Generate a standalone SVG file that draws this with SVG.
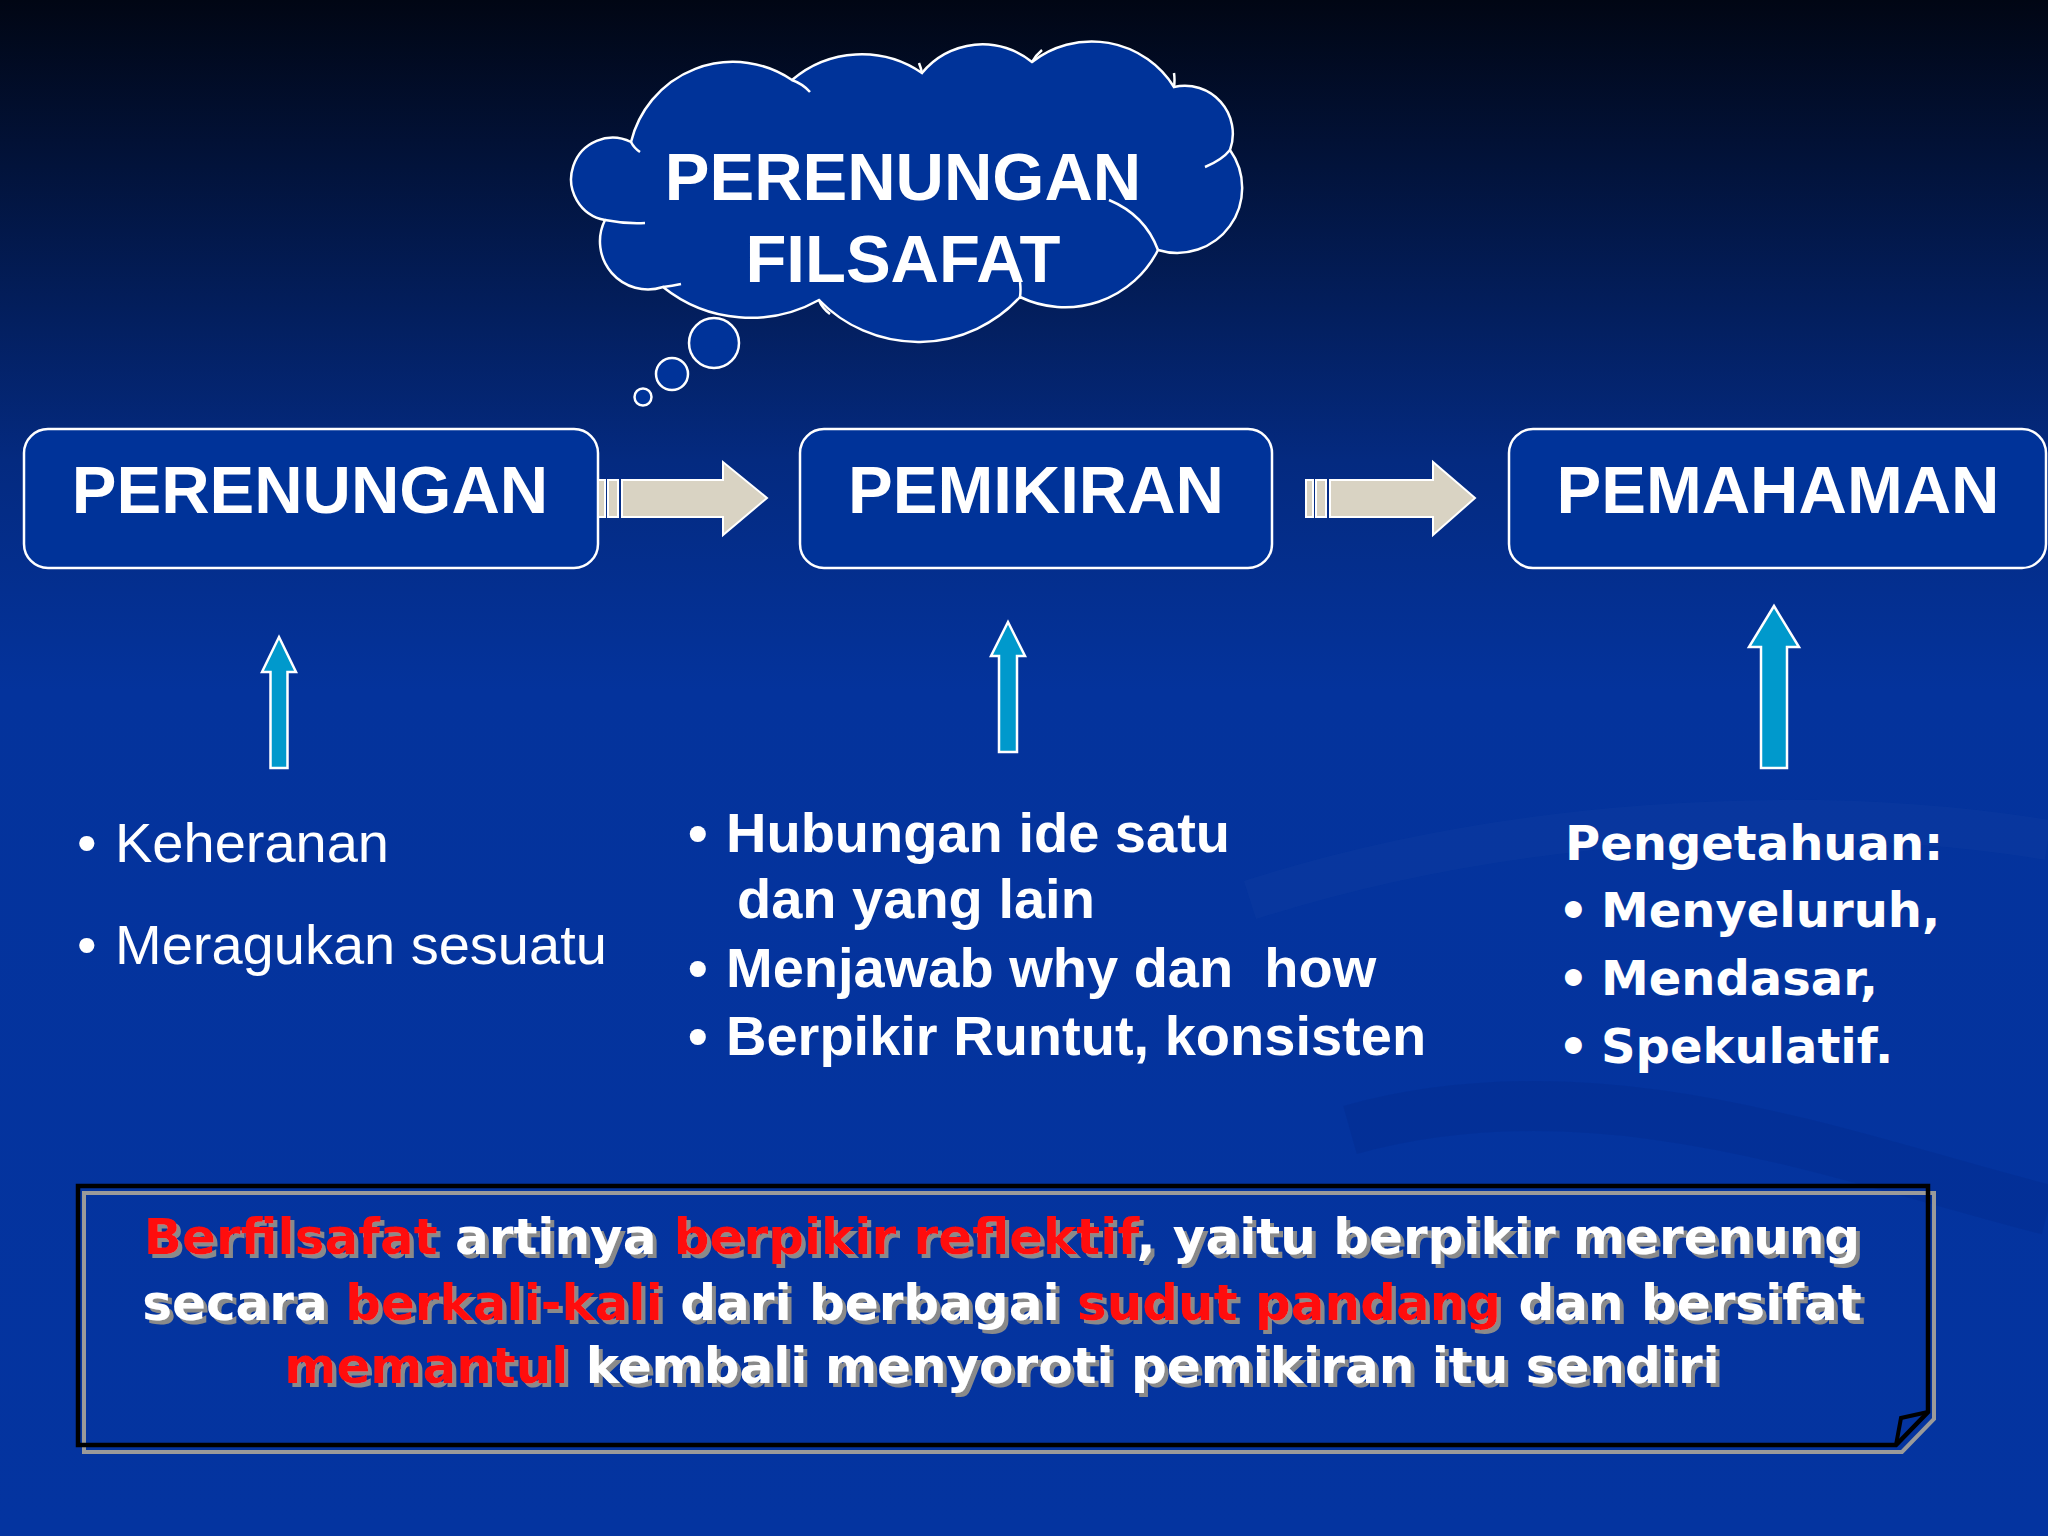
<svg xmlns="http://www.w3.org/2000/svg" width="2048" height="1536" viewBox="0 0 2048 1536">
<defs>
<linearGradient id="bg" x1="0" y1="0" x2="0" y2="1">
<stop offset="0" stop-color="#010614"/>
<stop offset="0.1" stop-color="#021238"/>
<stop offset="0.3" stop-color="#042a80"/>
<stop offset="0.45" stop-color="#04339c"/>
<stop offset="1" stop-color="#0434a0"/>
</linearGradient>
<filter id="tshadow" x="-5%" y="-30%" width="110%" height="160%">
<feOffset in="SourceAlpha" dx="4" dy="4" result="off"/>
<feFlood flood-color="#8a8a8a"/>
<feComposite in2="off" operator="in" result="sh"/>
<feMerge><feMergeNode in="sh"/><feMergeNode in="SourceGraphic"/></feMerge>
</filter>
<style>
.box{fill:#003399;stroke:#ffffff;stroke-width:2.5}
.head{font-family:"Liberation Sans",Arial,sans-serif;font-weight:bold;font-size:67px;fill:#ffffff;text-anchor:middle}
.beige{fill:#d9d3c3;stroke:#ffffff;stroke-width:2}
.up{fill:#0099cc;stroke:#ffffff;stroke-width:2.5}
.lreg{font-family:"Liberation Sans",Arial,sans-serif;font-size:56px;fill:#ffffff}
.lbold{font-family:"Liberation Sans",Arial,sans-serif;font-weight:bold;font-size:56px;fill:#ffffff}
.rbold{font-family:"DejaVu Sans",Verdana,sans-serif;font-weight:bold;font-size:48px;fill:#ffffff}
.btxt{font-family:"DejaVu Sans",Verdana,sans-serif;font-weight:bold;font-size:50px;text-anchor:middle}
.w{fill:#ffffff}
.r{fill:#ff1010}
.crease{fill:none;stroke:#ffffff;stroke-width:2.5}
</style>
</defs>
<rect x="0" y="0" width="2048" height="1536" fill="url(#bg)"/>
<path d="M1250,900 C1500,820 1800,800 2048,840" fill="none" stroke="#2a4fb0" stroke-opacity="0.12" stroke-width="40"/>
<path d="M1350,1130 C1600,1060 1850,1160 2048,1210" fill="none" stroke="#001a70" stroke-opacity="0.14" stroke-width="50"/>

<g id="cloud">
<path d="M631,142 A105,105 0 0 1 792,80 A107,107 0 0 1 922,73 A78,78 0 0 1 1032,62 A97,97 0 0 1 1174,87 A48,48 0 0 1 1230,150 A65,65 0 0 1 1158,250 A104,104 0 0 1 1020,297 A138,138 0 0 1 819,300 A140,140 0 0 1 663,287 A48,48 0 0 1 605,220 A41.5,41.5 0 1 1 631,142 Z" fill="#003399" stroke="#ffffff" stroke-width="2.5"/>
<path class="crease" d="M631,142 Q634,148 640,152 M792,80 Q803,84 810,92 M922,73 Q921,68 919,63 M1032,62 Q1036,55 1042,50 M1174,87 Q1175,80 1174,73 M1230,150 Q1222,160 1205,167 M1109,200 Q1145,215 1158,250 M1020,297 Q1021,290 1020,282 M819,300 Q822,308 830,314 M663,287 Q672,286 681,284 M605,220 Q625,224 645,223"/>
<circle cx="714" cy="343" r="25" fill="#003399" stroke="#ffffff" stroke-width="2.5"/>
<circle cx="672" cy="374" r="16" fill="#003399" stroke="#ffffff" stroke-width="2.5"/>
<circle cx="643" cy="397" r="8.5" fill="#003399" stroke="#ffffff" stroke-width="2.5"/>
<text class="head" x="903" y="200">PERENUNGAN</text>
<text class="head" x="903" y="282">FILSAFAT</text>
</g>

<g id="node-perenungan">
<rect class="box" x="24" y="429" width="574" height="139" rx="24"/>
<text class="head" x="310" y="513">PERENUNGAN</text>
</g>
<g id="node-pemikiran">
<rect class="box" x="800" y="429" width="472" height="139" rx="24"/>
<text class="head" x="1036" y="513">PEMIKIRAN</text>
</g>
<g id="node-pemahaman">
<rect class="box" x="1509" y="429" width="537" height="139" rx="24"/>
<text class="head" x="1778" y="513">PEMAHAMAN</text>
</g>

<g id="connectors">
<rect class="beige" x="598" y="480" width="7" height="37"/>
<rect class="beige" x="608" y="480" width="10" height="37"/>
<path class="beige" d="M622,480 H723 V462 L767,498 L723,535 V517 H622 Z"/>
<rect class="beige" x="1306" y="480" width="7" height="37"/>
<rect class="beige" x="1316" y="480" width="10" height="37"/>
<path class="beige" d="M1330,480 H1433 V462 L1475,498 L1433,535 V517 H1330 Z"/>
<path class="up" d="M279,637 L296,672 H287.5 V768 H270.5 V672 H262 Z"/>
<path class="up" d="M1008,622 L1025,656 H1017 V752 H999 V656 H991 Z"/>
<path class="up" d="M1774,606 L1799,647 H1787 V768 H1761 V647 H1749 Z"/>
</g>

<g id="list-perenungan">
<text class="lreg" x="77" y="862">•</text>
<text class="lreg" x="115" y="862">Keheranan</text>
<text class="lreg" x="77" y="964">•</text>
<text class="lreg" x="115" y="964">Meragukan sesuatu</text>
</g>

<g id="list-pemikiran">
<text class="lbold" x="688" y="852">•</text>
<text class="lbold" x="726" y="852">Hubungan ide satu</text>
<text class="lbold" x="737" y="918">dan yang lain</text>
<text class="lbold" x="688" y="987">•</text>
<text class="lbold" x="726" y="987" xml:space="preserve">Menjawab why dan  how</text>
<text class="lbold" x="688" y="1055">•</text>
<text class="lbold" x="726" y="1055">Berpikir Runtut, konsisten</text>
</g>

<g id="list-pemahaman">
<text class="rbold" x="1565" y="860">Pengetahuan:</text>
<text class="rbold" x="1558" y="927">•</text>
<text class="rbold" x="1601" y="927">Menyeluruh,</text>
<text class="rbold" x="1558" y="995">•</text>
<text class="rbold" x="1601" y="995">Mendasar,</text>
<text class="rbold" x="1558" y="1063">•</text>
<text class="rbold" x="1601" y="1063">Spekulatif.</text>
</g>

<g id="note-box">
<path d="M84,1193 H1934 V1419 L1902,1452 H84 Z" fill="none" stroke="#9a9a9a" stroke-width="4"/>
<path d="M78,1186 H1928 V1412 L1896,1445 H78 Z" fill="none" stroke="#000000" stroke-width="4.5"/>
<path d="M1928,1412 L1901,1418 L1896,1445" fill="none" stroke="#000000" stroke-width="4"/>
<g class="btxt" filter="url(#tshadow)">
<text x="1002" y="1254"><tspan class="r">Berfilsafat</tspan><tspan class="w"> artinya </tspan><tspan class="r">berpikir reflektif</tspan><tspan class="w">, yaitu berpikir merenung</tspan></text>
<text x="1002" y="1320"><tspan class="w">secara </tspan><tspan class="r">berkali-kali</tspan><tspan class="w"> dari berbagai </tspan><tspan class="r">sudut pandang</tspan><tspan class="w"> dan bersifat</tspan></text>
<text x="1002" y="1383"><tspan class="r">memantul</tspan><tspan class="w"> kembali menyoroti pemikiran itu sendiri</tspan></text>
</g>
</g>
</svg>
